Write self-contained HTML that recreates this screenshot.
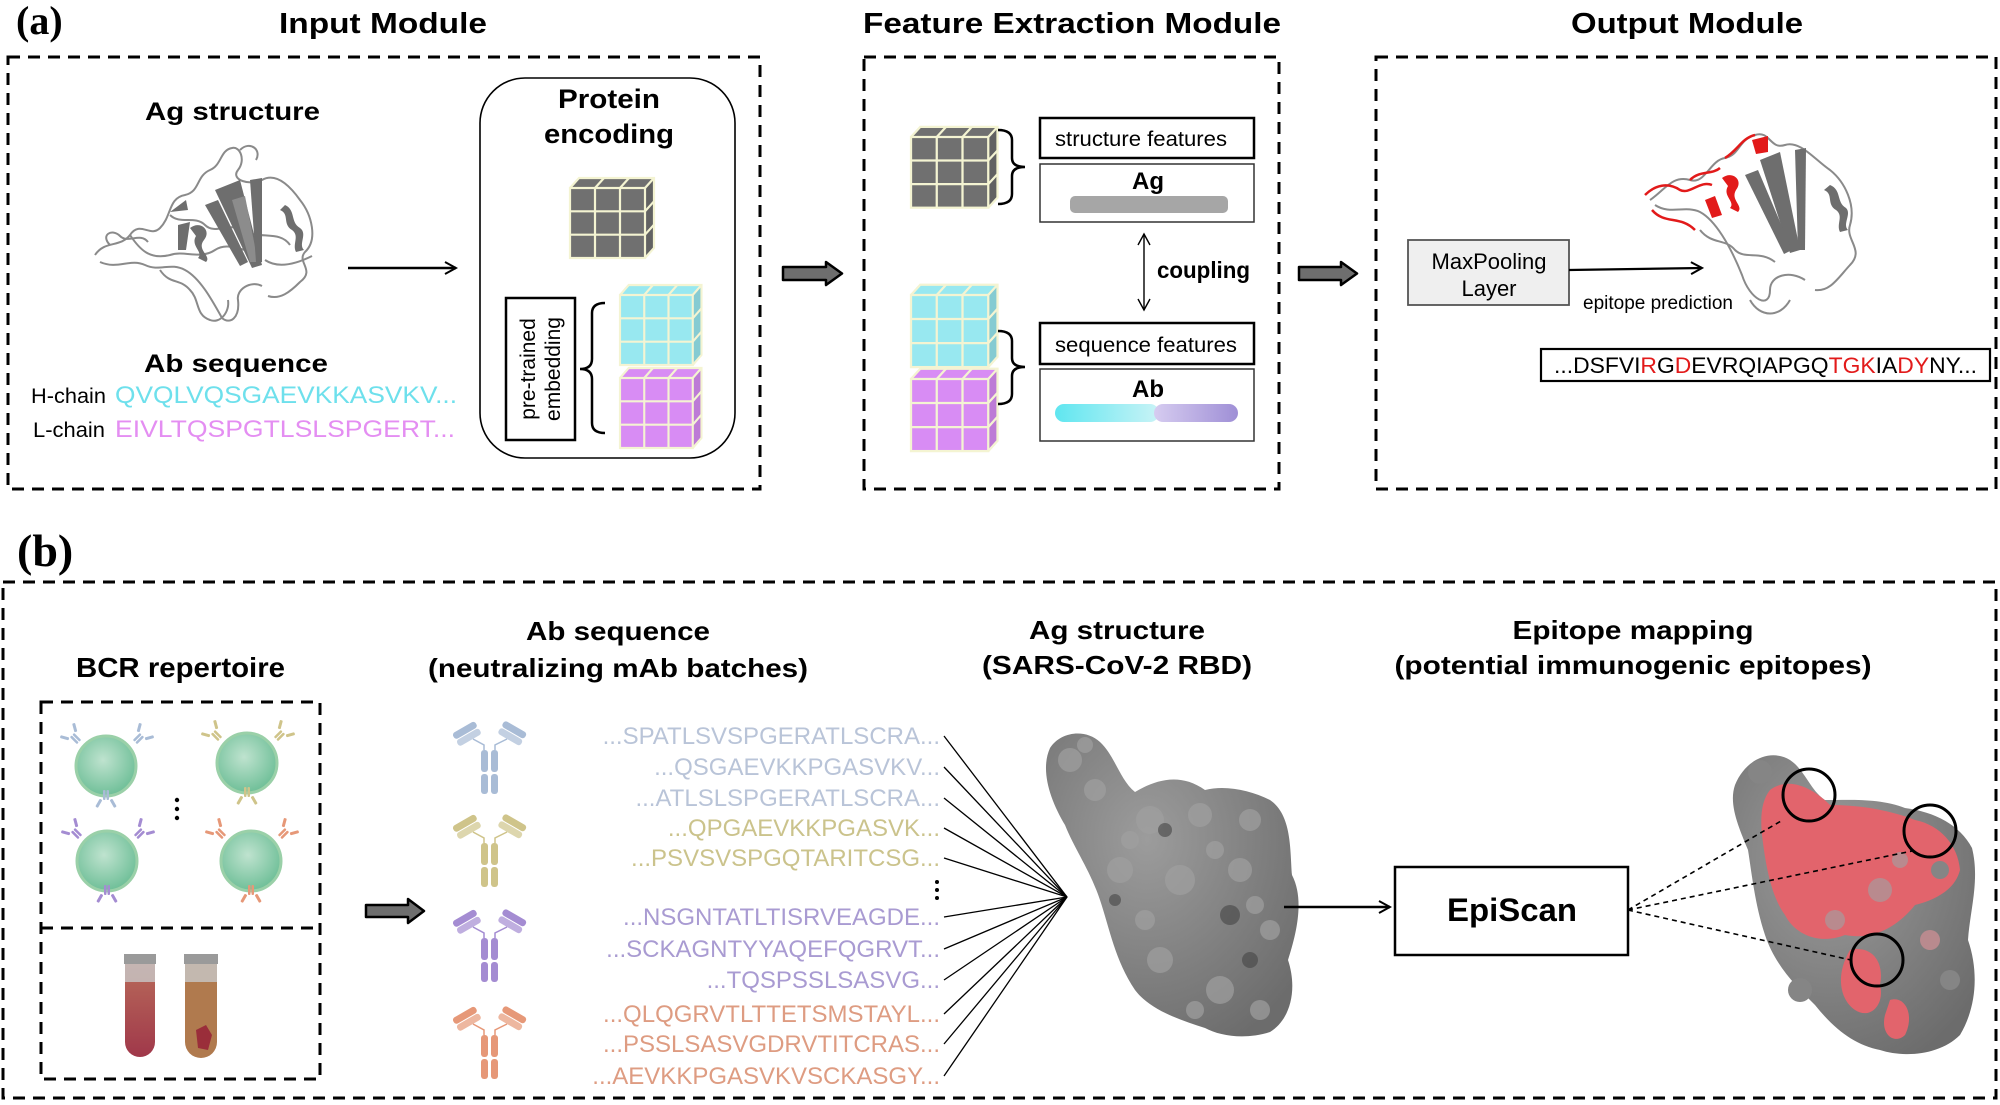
<!DOCTYPE html>
<html><head><meta charset="utf-8"><style>
html,body{margin:0;padding:0;background:#fff;}
svg{display:block;}
text{font-family:"Liberation Sans",Arial,sans-serif;}
.t{font-weight:bold;}
</style></head><body>
<svg width="2000" height="1105" viewBox="0 0 2000 1105" xmlns="http://www.w3.org/2000/svg">
<defs>
<g id="cube">
  <polygon points="0,0 9,-10 84,-10 75,0" fill="currentColor"/>
  <polygon points="75,0 84,-10 84,60 75,70" fill="currentColor"/>
  <polygon points="75,0 84,-10 84,60 75,70" fill="#000" opacity="0.12"/>
  <rect x="0" y="0" width="75" height="70" fill="currentColor"/>
  <g stroke="#f4f4d2" stroke-width="2.2" fill="none">
    <rect x="0" y="0" width="75" height="70"/>
    <polyline points="0,0 9,-10 84,-10 84,60 75,70"/>
    <line x1="75" y1="0" x2="84" y2="-10"/>
    <line x1="25" y1="0" x2="25" y2="70"/><line x1="50" y1="0" x2="50" y2="70"/>
    <line x1="0" y1="23.3" x2="75" y2="23.3"/><line x1="0" y1="46.7" x2="75" y2="46.7"/>
    <line x1="25" y1="0" x2="34" y2="-10"/><line x1="50" y1="0" x2="59" y2="-10"/>
    <line x1="75" y1="23.3" x2="84" y2="13.3"/><line x1="75" y1="46.7" x2="84" y2="36.7"/>
  </g>
</g>
<g id="ab">
  <g fill="currentColor">
    <rect x="30" y="32" width="7" height="22" rx="3"/><rect x="40" y="32" width="7" height="22" rx="3"/>
    <rect x="30" y="56" width="7" height="20" rx="3"/><rect x="40" y="56" width="7" height="20" rx="3"/>
    <g transform="rotate(-30 16 14)"><rect x="2" y="8" width="26" height="7" rx="3"/><rect x="2" y="16" width="26" height="7" rx="3" opacity="0.7"/></g>
    <g transform="rotate(30 62 14)"><rect x="49" y="8" width="26" height="7" rx="3"/><rect x="49" y="16" width="26" height="7" rx="3" opacity="0.7"/></g>
  </g>
  <path d="M33,32 L33,27 L22,21 M44,32 L44,27 L56,21" stroke="currentColor" stroke-width="1.5" fill="none"/>
</g>
<g id="miniab">
  <g fill="currentColor">
    <rect x="-3" y="0" width="2.5" height="10" rx="1"/><rect x="0.5" y="0" width="2.5" height="10" rx="1"/>
    <rect x="-9" y="-8" width="3" height="9" rx="1" transform="rotate(-30 -7 -4)"/>
    <rect x="6" y="-8" width="3" height="9" rx="1" transform="rotate(30 7 -4)"/>
  </g>
</g>
<radialGradient id="cell" cx="45%" cy="40%" r="60%"><stop offset="0" stop-color="#bfe3cf"/><stop offset="1" stop-color="#6fbf98"/></radialGradient>
<radialGradient id="surf" cx="40%" cy="35%" r="75%"><stop offset="0" stop-color="#9c9c9c"/><stop offset="1" stop-color="#6c6c6c"/></radialGradient>
<marker id="ah" markerWidth="14" markerHeight="14" refX="12" refY="7" orient="auto" markerUnits="userSpaceOnUse"><path d="M1,1 L12,7 L1,13" fill="none" stroke="#000" stroke-width="2"/></marker>
<marker id="ah2" markerWidth="14" markerHeight="14" refX="12" refY="7" orient="auto-start-reverse" markerUnits="userSpaceOnUse"><path d="M1,1 L12,7 L1,13" fill="none" stroke="#000" stroke-width="1.4"/></marker>
<linearGradient id="cy" x1="0" x2="1"><stop offset="0" stop-color="#5fe6f0"/><stop offset="1" stop-color="#c9f3f6"/></linearGradient>
<linearGradient id="pu" x1="0" x2="1"><stop offset="0" stop-color="#d6ccf0"/><stop offset="1" stop-color="#9f8fd6"/></linearGradient>
<linearGradient id="tube1" x1="0" y1="0" x2="0" y2="1"><stop offset="0" stop-color="#b86a5a"/><stop offset="1" stop-color="#a0384a"/></linearGradient>
</defs>

<!-- (a) -->
<text x="16" y="34" font-weight="bold" font-size="40" style="font-family:'Liberation Serif',serif">(a)</text>
<text class="t" x="279" y="33" font-size="29" textLength="208" lengthAdjust="spacingAndGlyphs">Input Module</text>
<text class="t" x="863" y="33" font-size="29" textLength="418" lengthAdjust="spacingAndGlyphs">Feature Extraction Module</text>
<text class="t" x="1571" y="33" font-size="29" textLength="232" lengthAdjust="spacingAndGlyphs">Output Module</text>

<g fill="none" stroke="#000" stroke-width="3" stroke-dasharray="12 8">
  <rect x="8" y="57" width="752" height="432"/>
  <rect x="864" y="57" width="415" height="432"/>
  <rect x="1376" y="57" width="620" height="432"/>
  <rect x="3" y="582" width="1993" height="516"/>
  <rect x="41" y="702" width="279" height="377"/>
  <line x1="41" y1="928" x2="320" y2="928"/>
</g>

<!-- Input module -->
<text class="t" x="145" y="120" font-size="25" textLength="175" lengthAdjust="spacingAndGlyphs">Ag structure</text>
<g fill="none" stroke="#8a8a8a" stroke-width="2" stroke-linejoin="round">
  <path d="M95,255 C105,240 120,248 130,235 C140,220 150,238 160,228 C172,216 168,198 185,195 C200,192 196,176 210,170 C222,165 220,150 232,148 C240,146 246,160 238,170 C230,180 250,186 262,180 C276,172 290,186 300,200 C312,215 318,240 305,252 C296,262 316,270 300,282 C290,292 280,300 268,296"/>
  <path d="M100,262 C118,270 130,258 145,265 C160,272 170,262 185,270 C200,278 212,300 222,318 C230,325 240,318 238,300 C236,290 250,280 262,286"/>
  <path d="M130,235 C140,250 150,260 170,255 C185,250 200,260 215,250 C230,240 245,255 260,250"/>
  <path d="M170,215 C180,225 195,215 205,225 C215,235 230,222 240,230 C260,240 280,230 290,245"/>
  <path d="M110,245 C100,235 112,228 120,236 C128,244 140,232 148,242"/>
  <path d="M160,270 C170,285 180,278 190,290 C200,300 195,315 210,320 C220,324 230,312 228,300"/>
  <path d="M240,150 C250,140 262,150 256,160"/>
  <path d="M265,260 C280,270 300,262 312,256"/>
</g>
<g fill="#6e6e6e">
  <path d="M215,190 L240,180 L262,265 L252,268 Z"/>
  <path d="M232,200 L245,196 L258,262 L250,262 Z" fill="#8c8c8c"/>
  <path d="M205,205 L218,200 L248,262 L240,266 Z"/>
  <path d="M250,180 L262,178 L262,262 L256,262 Z"/>
  <path d="M190,228 C200,220 212,230 204,240 C196,250 212,256 206,262 L198,258 C204,252 190,246 196,236 Z"/>
  <path d="M285,205 C296,210 290,222 300,228 C308,234 298,244 304,250 L296,252 C292,244 300,236 292,230 C282,224 290,214 280,210 Z"/>
  <path d="M178,225 L190,222 L186,250 L178,250 Z"/>
  <path d="M170,212 L186,200 L188,210 Z"/>
</g>
<line x1="348" y1="268" x2="456" y2="268" stroke="#000" stroke-width="2.5" marker-end="url(#ah)"/>
<text class="t" x="144" y="372" font-size="25" textLength="184" lengthAdjust="spacingAndGlyphs">Ab sequence</text>
<text x="31" y="403" font-size="21" textLength="75" lengthAdjust="spacingAndGlyphs">H-chain</text>
<text x="115" y="403" font-size="24" fill="#6ee0ec" textLength="342" lengthAdjust="spacingAndGlyphs">QVQLVQSGAEVKKASVKV...</text>
<text x="33" y="437" font-size="21" textLength="72" lengthAdjust="spacingAndGlyphs">L-chain</text>
<text x="115" y="437" font-size="24" fill="#e48ef2" textLength="340" lengthAdjust="spacingAndGlyphs">EIVLTQSPGTLSLSPGERT...</text>

<rect x="480" y="78" width="255" height="380" rx="45" fill="none" stroke="#000" stroke-width="1.6"/>
<text class="t" x="609" y="108" font-size="27" text-anchor="middle" textLength="102" lengthAdjust="spacingAndGlyphs">Protein</text>
<text class="t" x="609" y="143" font-size="27" text-anchor="middle" textLength="130" lengthAdjust="spacingAndGlyphs">encoding</text>
<use href="#cube" transform="translate(570,188)" style="color:#707070"/>
<use href="#cube" transform="translate(620,295) scale(0.97,1)" style="color:#98e8f0"/>
<use href="#cube" transform="translate(620,378) scale(0.97,1)" style="color:#d88cf4"/>
<rect x="506" y="298" width="69" height="142" fill="#fff" stroke="#000" stroke-width="2.5"/>
<text transform="translate(535,369) rotate(-90)" font-size="21" text-anchor="middle">pre-trained</text>
<text transform="translate(560,369) rotate(-90)" font-size="21" text-anchor="middle">embedding</text>
<path d="M605,303 Q592,303 592,313 L592,359 Q592,369 580,369 Q592,369 592,379 L592,423 Q592,433 605,433" fill="none" stroke="#000" stroke-width="2.5"/>

<!-- thick arrows -->
<g fill="#6e6e6e" stroke="#000" stroke-width="2.5" stroke-linejoin="round">
  <polygon points="783,267 826,267 826,262 842,273.5 826,285 826,280 783,280"/>
  <polygon points="1299,267 1341,267 1341,262 1357,273.5 1341,285 1341,280 1299,280"/>
  <polygon points="366,905 408,905 408,899 424,911 408,923 408,917 366,917"/>
</g>

<!-- Feature extraction -->
<use href="#cube" transform="translate(911,137) scale(1.03,1.01)" style="color:#707070"/>
<use href="#cube" transform="translate(911,295) scale(1.03,1.03)" style="color:#98e8f0"/>
<use href="#cube" transform="translate(911,379) scale(1.03,1.03)" style="color:#d88cf4"/>
<path d="M998,130 Q1012,130 1012,140 L1012,158 Q1012,167 1025,167 Q1012,167 1012,176 L1012,194 Q1012,204 998,204" fill="none" stroke="#000" stroke-width="2.5"/>
<path d="M998,331 Q1012,331 1012,341 L1012,358 Q1012,367 1025,367 Q1012,367 1012,376 L1012,394 Q1012,404 998,404" fill="none" stroke="#000" stroke-width="2.5"/>
<rect x="1040" y="118" width="214" height="40" fill="#fff" stroke="#000" stroke-width="2.5"/>
<text x="1055" y="146" font-size="21" textLength="172" lengthAdjust="spacingAndGlyphs">structure features</text>
<rect x="1040" y="164" width="214" height="58" fill="#fff" stroke="#333" stroke-width="1.5"/>
<text class="t" x="1148" y="189" font-size="24" text-anchor="middle">Ag</text>
<rect x="1070" y="196" width="158" height="17" rx="5" fill="#a6a6a6"/>
<line x1="1144" y1="234" x2="1144" y2="310" stroke="#000" stroke-width="1.4" marker-start="url(#ah2)" marker-end="url(#ah2)"/>
<text class="t" x="1157" y="278" font-size="23" textLength="93" lengthAdjust="spacingAndGlyphs">coupling</text>
<rect x="1040" y="323" width="214" height="41" fill="#fff" stroke="#000" stroke-width="2.5"/>
<text x="1055" y="352" font-size="21" textLength="182" lengthAdjust="spacingAndGlyphs">sequence features</text>
<rect x="1040" y="369" width="214" height="72" fill="#fff" stroke="#333" stroke-width="1.5"/>
<text class="t" x="1148" y="397" font-size="24" text-anchor="middle">Ab</text>
<rect x="1055" y="404" width="104" height="18" rx="9" fill="url(#cy)"/>
<rect x="1154" y="404" width="84" height="18" rx="9" fill="url(#pu)"/>

<!-- Output module -->
<rect x="1408" y="240" width="161" height="65" fill="#efefef" stroke="#555" stroke-width="1.8"/>
<text x="1489" y="269" font-size="22" text-anchor="middle">MaxPooling</text>
<text x="1489" y="296" font-size="22" text-anchor="middle">Layer</text>
<line x1="1569" y1="270" x2="1702" y2="268" stroke="#000" stroke-width="2.2" marker-end="url(#ah)"/>
<text x="1583" y="309" font-size="19">epitope prediction</text>
<g fill="none" stroke="#8a8a8a" stroke-width="2">
  <path d="M1650,200 C1665,190 1672,175 1690,180 C1705,185 1710,160 1725,158 C1740,155 1738,140 1755,135 C1770,130 1770,150 1785,145 C1800,140 1815,160 1830,170 C1845,182 1856,205 1850,225 C1845,240 1865,250 1850,265 C1838,278 1830,292 1815,290"/>
  <path d="M1655,205 C1670,215 1685,205 1700,212 C1715,220 1730,245 1742,275 C1750,300 1770,310 1770,290 C1770,275 1790,270 1805,280"/>
  <path d="M1700,230 C1712,245 1725,238 1735,250 C1745,260 1760,250 1775,262"/>
  <path d="M1750,300 C1760,318 1780,318 1790,300"/>
</g>
<g fill="none" stroke="#e21a1a" stroke-width="2.5">
  <path d="M1645,195 C1655,185 1668,182 1680,190 C1690,195 1700,180 1712,185"/>
  <path d="M1652,210 C1665,225 1680,215 1695,230"/>
  <path d="M1725,158 C1738,150 1742,138 1755,135"/>
  <path d="M1690,180 C1700,170 1712,175 1720,168"/>
</g>
<g fill="#6e6e6e">
  <path d="M1760,160 L1780,152 L1800,250 L1790,253 Z"/>
  <path d="M1745,175 L1758,170 L1792,250 L1784,254 Z"/>
  <path d="M1795,150 L1806,148 L1805,250 L1798,250 Z"/>
  <path d="M1830,185 C1842,190 1836,202 1846,208 C1852,214 1842,224 1848,230 L1840,232 C1836,224 1844,216 1836,210 C1826,204 1834,194 1824,190 Z"/>
</g>
<g fill="#e21a1a">
  <path d="M1722,178 C1732,170 1744,180 1736,190 C1730,200 1744,206 1738,212 L1730,208 C1736,202 1722,196 1728,186 Z"/>
  <path d="M1752,140 L1768,136 L1768,152 L1756,154 Z"/>
  <path d="M1705,200 L1715,196 L1722,215 L1712,218 Z"/>
</g>
<rect x="1541" y="349" width="449" height="32" fill="#fff" stroke="#000" stroke-width="2.2"/>
<text x="1554" y="373" font-size="22" textLength="423" lengthAdjust="spacingAndGlyphs">...DSFVI<tspan fill="#e21a1a">R</tspan>G<tspan fill="#e21a1a">D</tspan>EVRQIAPGQ<tspan fill="#e21a1a">TGK</tspan>IA<tspan fill="#e21a1a">DY</tspan>NY...</text>

<!-- (b) -->
<text x="17" y="566" font-weight="bold" font-size="46" style="font-family:'Liberation Serif',serif">(b)</text>
<text class="t" x="76" y="677" font-size="28" textLength="209" lengthAdjust="spacingAndGlyphs">BCR repertoire</text>

<g>
  <g style="color:#a9bcd6">
    <circle cx="106" cy="766" r="30" fill="url(#cell)" stroke="#9ad0a8" stroke-width="3"/>
    <use href="#miniab" transform="translate(72,735) rotate(-45)"/><use href="#miniab" transform="translate(142,735) rotate(45)"/><use href="#miniab" transform="translate(106,800) rotate(180)"/>
  </g>
  <g style="color:#cfc48a">
    <circle cx="247" cy="763" r="30" fill="url(#cell)" stroke="#9ad0a8" stroke-width="3"/>
    <use href="#miniab" transform="translate(213,732) rotate(-45)"/><use href="#miniab" transform="translate(283,732) rotate(45)"/><use href="#miniab" transform="translate(247,797) rotate(180)"/>
  </g>
  <g style="color:#a48cd2">
    <circle cx="107" cy="861" r="30" fill="url(#cell)" stroke="#9ad0a8" stroke-width="3"/>
    <use href="#miniab" transform="translate(73,830) rotate(-45)"/><use href="#miniab" transform="translate(143,830) rotate(45)"/><use href="#miniab" transform="translate(107,895) rotate(180)"/>
  </g>
  <g style="color:#e69878">
    <circle cx="251" cy="861" r="30" fill="url(#cell)" stroke="#9ad0a8" stroke-width="3"/>
    <use href="#miniab" transform="translate(217,830) rotate(-45)"/><use href="#miniab" transform="translate(287,830) rotate(45)"/><use href="#miniab" transform="translate(251,895) rotate(180)"/>
  </g>
  <g fill="#000"><circle cx="177" cy="800" r="2.2"/><circle cx="177" cy="809" r="2.2"/><circle cx="177" cy="818" r="2.2"/></g>
</g>
<rect x="124" y="954" width="32" height="10" fill="#9a9a9a"/>
<path d="M125,964 L155,964 L155,1042 A15,15 0 0 1 125,1042 Z" fill="url(#tube1)"/>
<rect x="125" y="964" width="30" height="18" fill="#c8c8c8" opacity="0.8"/>
<rect x="184" y="954" width="34" height="10" fill="#9a9a9a"/>
<path d="M185,964 L217,964 L217,1042 A16,16 0 0 1 185,1042 Z" fill="#b07a4e"/>
<rect x="185" y="964" width="32" height="18" fill="#c8c8c8" opacity="0.8"/>
<path d="M196,1030 L206,1025 L212,1035 L208,1050 L198,1048 Z" fill="#9a2e3a"/>

<text class="t" x="618" y="640" font-size="26" text-anchor="middle" textLength="184" lengthAdjust="spacingAndGlyphs">Ab sequence</text>
<text class="t" x="618" y="677" font-size="26" text-anchor="middle" textLength="380" lengthAdjust="spacingAndGlyphs">(neutralizing mAb batches)</text>

<use href="#ab" transform="translate(451,718)" style="color:#a9bcd6"/>
<use href="#ab" transform="translate(451,811)" style="color:#cfc48a"/>
<use href="#ab" transform="translate(451,906)" style="color:#a48cd2"/>
<use href="#ab" transform="translate(451,1003)" style="color:#e69878"/>

<g font-size="24" text-anchor="end">
  <text x="940" y="744" fill="#b9c4d8">...SPATLSVSPGERATLSCRA...</text>
  <text x="940" y="775" fill="#b9c4d8">...QSGAEVKKPGASVKV...</text>
  <text x="940" y="806" fill="#b9c4d8">...ATLSLSPGERATLSCRA...</text>
  <text x="940" y="836" fill="#cbc38c">...QPGAEVKKPGASVK...</text>
  <text x="940" y="866" fill="#cbc38c">...PSVSVSPGQTARITCSG...</text>
  <text x="940" y="925" fill="#a99bd2">...NSGNTATLTISRVEAGDE...</text>
  <text x="940" y="957" fill="#a99bd2">...SCKAGNTYYAQEFQGRVT...</text>
  <text x="940" y="988" fill="#a99bd2">...TQSPSSLSASVG...</text>
  <text x="940" y="1022" fill="#de9c82">...QLQGRVTLTTETSMSTAYL...</text>
  <text x="940" y="1052" fill="#de9c82">...PSSLSASVGDRVTITCRAS...</text>
  <text x="940" y="1084" fill="#de9c82">...AEVKKPGASVKVSCKASGY...</text>
</g>
<g fill="#000"><circle cx="937" cy="882" r="2"/><circle cx="937" cy="890" r="2"/><circle cx="937" cy="898" r="2"/></g>
<g stroke="#000" stroke-width="1.3">
  <line x1="944" y1="736" x2="1067" y2="897"/><line x1="944" y1="767" x2="1067" y2="897"/>
  <line x1="944" y1="798" x2="1067" y2="897"/><line x1="944" y1="828" x2="1067" y2="897"/>
  <line x1="944" y1="858" x2="1067" y2="897"/><line x1="944" y1="917" x2="1067" y2="897"/>
  <line x1="944" y1="949" x2="1067" y2="897"/><line x1="944" y1="980" x2="1067" y2="897"/>
  <line x1="944" y1="1014" x2="1067" y2="897"/><line x1="944" y1="1044" x2="1067" y2="897"/>
  <line x1="944" y1="1076" x2="1067" y2="897"/>
</g>

<text class="t" x="1117" y="639" font-size="26" text-anchor="middle" textLength="176" lengthAdjust="spacingAndGlyphs">Ag structure</text>
<text class="t" x="1117" y="674" font-size="26" text-anchor="middle" textLength="270" lengthAdjust="spacingAndGlyphs">(SARS-CoV-2 RBD)</text>
<text class="t" x="1633" y="639" font-size="26" text-anchor="middle" textLength="241" lengthAdjust="spacingAndGlyphs">Epitope mapping</text>
<text class="t" x="1633" y="674" font-size="26" text-anchor="middle" textLength="477" lengthAdjust="spacingAndGlyphs">(potential immunogenic epitopes)</text>

<!-- RBD surface -->
<path d="M1050,748 C1060,732 1085,728 1100,742 C1115,756 1120,780 1135,792 C1155,780 1180,772 1205,790 C1225,785 1250,790 1270,800 C1292,815 1290,850 1292,875 C1305,900 1296,935 1288,960 C1298,990 1290,1020 1270,1032 C1245,1040 1220,1036 1205,1028 C1180,1020 1150,1010 1135,990 C1115,960 1110,930 1100,900 C1090,870 1075,850 1065,825 C1050,800 1040,770 1050,748 Z" fill="url(#surf)"/>
<g fill="#a0a0a0" opacity="0.7">
  <circle cx="1070" cy="760" r="12"/><circle cx="1095" cy="790" r="11"/><circle cx="1150" cy="820" r="14"/><circle cx="1200" cy="815" r="12"/>
  <circle cx="1250" cy="820" r="11"/><circle cx="1120" cy="870" r="13"/><circle cx="1180" cy="880" r="15"/><circle cx="1240" cy="870" r="12"/>
  <circle cx="1270" cy="930" r="10"/><circle cx="1160" cy="960" r="13"/><circle cx="1220" cy="990" r="14"/><circle cx="1260" cy="1010" r="10"/>
  <circle cx="1085" cy="745" r="8"/><circle cx="1130" cy="840" r="9"/><circle cx="1215" cy="850" r="9"/><circle cx="1145" cy="920" r="10"/><circle cx="1255" cy="905" r="9"/><circle cx="1195" cy="1010" r="9"/>
</g>
<g fill="#454545" opacity="0.6"><circle cx="1230" cy="915" r="10"/><circle cx="1165" cy="830" r="7"/><circle cx="1250" cy="960" r="8"/><circle cx="1115" cy="900" r="6"/></g>
<line x1="1284" y1="907" x2="1390" y2="907" stroke="#000" stroke-width="2.5" marker-end="url(#ah)"/>
<rect x="1395" y="867" width="233" height="88" fill="#fff" stroke="#000" stroke-width="2.5"/>
<text class="t" x="1512" y="921" font-size="32" text-anchor="middle" textLength="130" lengthAdjust="spacingAndGlyphs">EpiScan</text>

<!-- epitope surface -->
<path d="M1735,785 C1745,760 1770,748 1790,760 C1805,770 1810,790 1825,800 C1850,800 1880,798 1905,808 C1935,812 1960,825 1972,848 C1980,880 1970,910 1968,940 C1980,975 1975,1010 1960,1035 C1940,1055 1905,1058 1880,1050 C1855,1045 1835,1030 1815,1005 C1795,985 1775,965 1765,935 C1755,905 1752,875 1748,850 C1740,830 1728,805 1735,785 Z" fill="url(#surf)"/>
<g fill="#e2646c">
  <path d="M1770,790 C1790,775 1815,790 1830,805 C1860,805 1890,810 1915,820 C1940,825 1958,845 1960,870 C1955,890 1935,900 1915,905 C1895,930 1870,940 1845,935 C1820,945 1795,935 1785,915 C1770,895 1765,860 1762,835 C1760,815 1762,800 1770,790 Z"/>
  <path d="M1850,950 C1870,945 1885,960 1880,985 C1885,1005 1870,1020 1855,1010 C1840,1000 1835,975 1850,950 Z"/>
  <path d="M1890,1000 C1905,995 1915,1015 1905,1035 C1895,1045 1880,1035 1885,1015 Z"/>
</g>
<g fill="#b98a8e"><circle cx="1880" cy="890" r="12"/><circle cx="1835" cy="920" r="10"/><circle cx="1930" cy="940" r="10"/><circle cx="1900" cy="860" r="8"/></g>
<g fill="#858585"><circle cx="1760" cy="772" r="12"/><circle cx="1940" cy="870" r="9"/><circle cx="1800" cy="990" r="12"/><circle cx="1950" cy="980" r="10"/></g>
<g fill="none" stroke="#000" stroke-width="3"><circle cx="1809" cy="795" r="26"/><circle cx="1930" cy="831" r="26"/><circle cx="1877" cy="960" r="26"/></g>
<g stroke="#000" stroke-width="1.6" stroke-dasharray="5 4">
  <line x1="1628" y1="910" x2="1781" y2="821"/><line x1="1628" y1="910" x2="1912" y2="851"/><line x1="1628" y1="910" x2="1851" y2="960"/>
</g>
</svg>
</body></html>
